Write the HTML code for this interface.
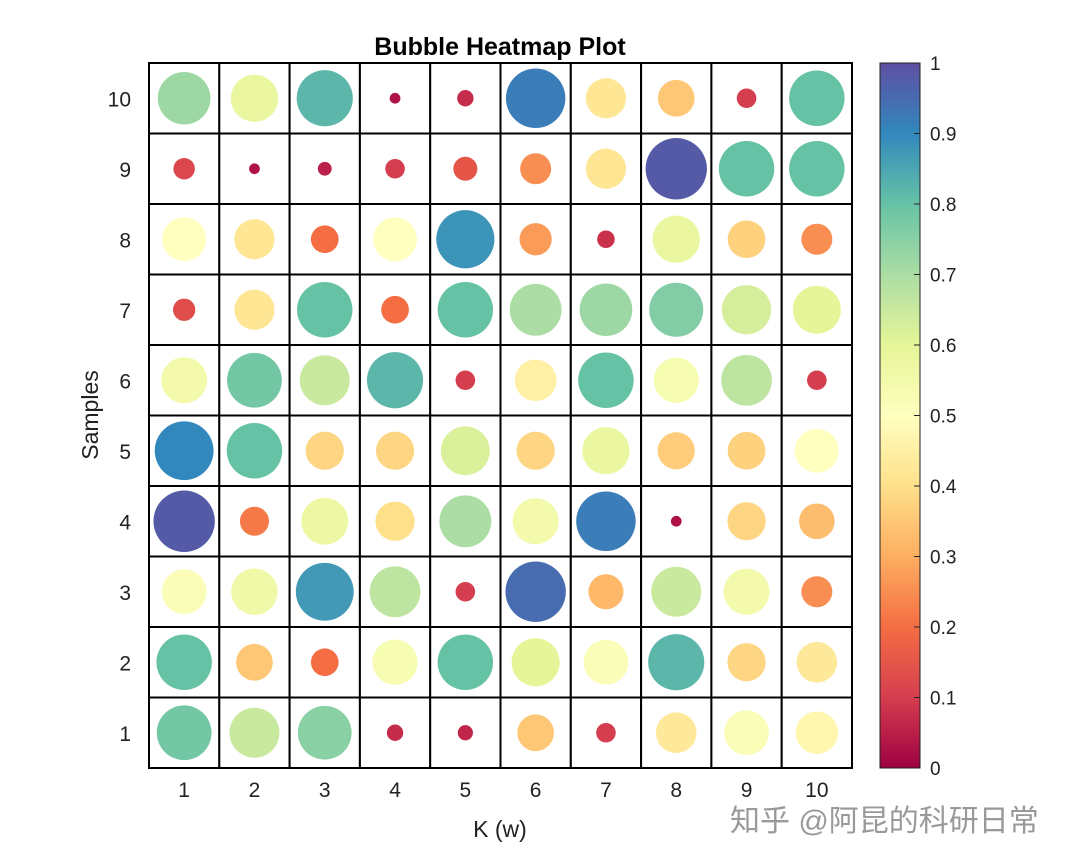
<!DOCTYPE html>
<html><head><meta charset="utf-8"><style>
html,body{margin:0;padding:0;background:#fff;}
svg{display:block;font-family:"Liberation Sans",Arial,sans-serif;}
</style></head><body>
<svg id="chart" width="1080" height="863" viewBox="0 0 1080 863" xmlns="http://www.w3.org/2000/svg">
<defs>
<linearGradient id="cbgrad" x1="0" y1="1" x2="0" y2="0">
<stop offset="0" stop-color="#9e0142"/><stop offset="0.1" stop-color="#d53e4f"/><stop offset="0.2" stop-color="#f46d43"/><stop offset="0.3" stop-color="#fdae61"/><stop offset="0.4" stop-color="#fee08b"/><stop offset="0.5" stop-color="#ffffbf"/><stop offset="0.6" stop-color="#e6f598"/><stop offset="0.7" stop-color="#abdda4"/><stop offset="0.8" stop-color="#66c2a5"/><stop offset="0.9" stop-color="#3288bd"/><stop offset="1" stop-color="#5e4fa2"/>
</linearGradient>
</defs>
<text x="500" y="55" text-anchor="middle" font-size="25" font-weight="bold" fill="#000">Bubble Heatmap Plot</text>
<g id="cells"></g>
<g id="ticks"></g>
<text x="500" y="837" text-anchor="middle" font-size="23" fill="#222">K (w)</text>
<text transform="translate(98,415) rotate(-90)" text-anchor="middle" font-size="23" fill="#222">Samples</text>
<rect x="880" y="63" width="40" height="705" fill="url(#cbgrad)" stroke="#222" stroke-width="1"/>
<g id="cbticks"></g>
<text x="730" y="831" font-size="30" fill="#999" font-family="'Liberation Sans','Noto Sans CJK SC',sans-serif">知乎 @阿昆的科研日常</text>
</svg>
<script>
const categoriesX = ["1","2","3","4","5","6","7","8","9","10"];
const categoriesY = ["1","2","3","4","5","6","7","8","9","10"];
// values[row] where row 0 = sample 1
const row1 = [0.78,0.65,0.75,0.07,0.06,0.35,0.10,0.43,0.52,0.47];
const row2 = [0.80,0.35,0.20,0.53,0.80,0.60,0.52,0.82,0.38,0.43];
const row3 = [0.52,0.56,0.87,0.67,0.10,0.95,0.32,0.65,0.55,0.25];
const row4 = [0.98,0.22,0.57,0.40,0.70,0.55,0.92,0.03,0.38,0.33];
const row5 = [0.90,0.80,0.38,0.38,0.62,0.38,0.58,0.36,0.37,0.50];
const row6 = [0.55,0.78,0.65,0.82,0.10,0.45,0.80,0.53,0.67,0.10];
const row7 = [0.13,0.42,0.80,0.20,0.80,0.70,0.72,0.76,0.63,0.60];
const row8 = [0.50,0.42,0.20,0.50,0.88,0.27,0.08,0.58,0.37,0.25];
const row9 = [0.12,0.03,0.05,0.10,0.15,0.25,0.42,0.98,0.80,0.80];
const row10 = [0.72,0.58,0.82,0.03,0.07,0.92,0.42,0.35,0.10,0.80];
const colorbarTicks = [0,0.1,0.2,0.3,0.4,0.5,0.6,0.7,0.8,0.9,1];
const rows = [row1,row2,row3,row4,row5,row6,row7,row8,row9,row10];

const L=149,R=852,T=63,B=768;
const cw=(R-L)/categoriesX.length, ch=(B-T)/categoriesY.length;
const xPos=i=>L+cw*(i+0.5);
const yPos=j=>B-ch*(j+0.5);
const rScale=v=>31*Math.sqrt(Math.max(v,0));
const stops=[[158,1,66],[213,62,79],[244,109,67],[253,174,97],[254,224,139],[255,255,191],[230,245,152],[171,221,164],[102,194,165],[50,136,189],[94,79,162]];
function color(v){v=Math.min(1,Math.max(0,v));const p=v*10,i=Math.min(9,Math.floor(p)),f=p-i;const a=stops[i],b=stops[i+1];return `rgb(${a.map((c,k)=>Math.round(c+(b[k]-c)*f)).join(',')})`;}
const NS="http://www.w3.org/2000/svg";
const cells=document.getElementById('cells');
rows.forEach((row,j)=>row.forEach((v,i)=>{
  const r=document.createElementNS(NS,'rect');
  r.setAttribute('x',L+cw*i);r.setAttribute('y',B-ch*(j+1));r.setAttribute('width',cw);r.setAttribute('height',ch);
  r.setAttribute('fill','#fff');r.setAttribute('stroke','#000');r.setAttribute('stroke-width','2');
  
  
  cells.appendChild(r);
  const c=document.createElementNS(NS,'circle');
  c.setAttribute('cx',xPos(i));c.setAttribute('cy',yPos(j));c.setAttribute('r',rScale(v));c.setAttribute('fill',color(v));
  
  
  cells.appendChild(c);
}));
const ticks=document.getElementById('ticks');
categoriesX.forEach((t,i)=>{const e=document.createElementNS(NS,'text');e.setAttribute('x',xPos(i));e.setAttribute('y',B+29);e.setAttribute('text-anchor','middle');e.setAttribute('font-size','21');e.setAttribute('fill','#222');e.textContent=t;
  
  
  ticks.appendChild(e);});
categoriesY.forEach((t,j)=>{const e=document.createElementNS(NS,'text');e.setAttribute('x',L-18);e.setAttribute('y',yPos(j)+8);e.setAttribute('text-anchor','end');e.setAttribute('font-size','21');e.setAttribute('fill','#222');e.textContent=t;
  
  
  ticks.appendChild(e);});
const cbt=document.getElementById('cbticks');
colorbarTicks.forEach(v=>{const y=B-(B-T)*v;
  const l=document.createElementNS(NS,'line');l.setAttribute('x1',914);l.setAttribute('x2',920);l.setAttribute('y1',y);l.setAttribute('y2',y);l.setAttribute('stroke','#222');
  
  
  cbt.appendChild(l);
  const e=document.createElementNS(NS,'text');e.setAttribute('x',930);e.setAttribute('y',y+7);e.setAttribute('font-size','19');e.setAttribute('fill','#222');e.textContent=String(v);
  
  
  cbt.appendChild(e);});
</script>
</body></html>
